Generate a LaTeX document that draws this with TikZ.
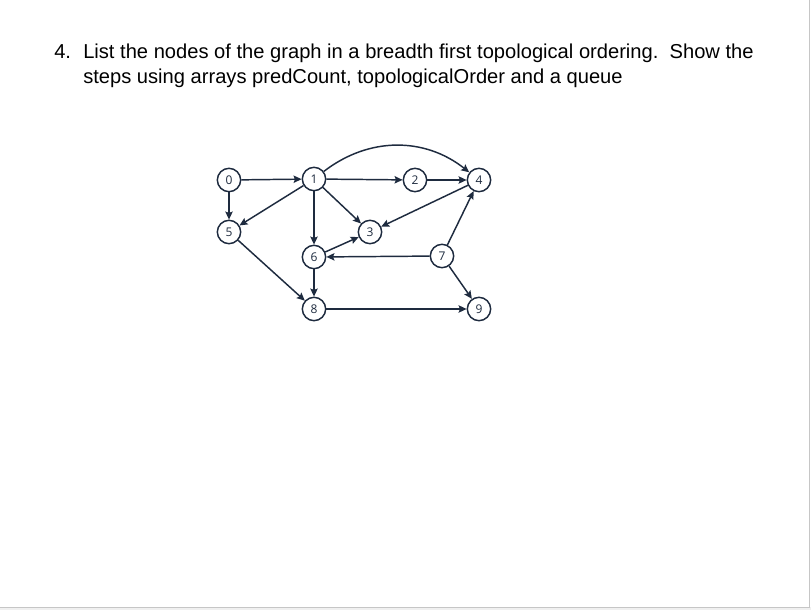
\documentclass[tikz,border=0pt]{standalone}
\usepackage{fontspec}
\setmainfont{Liberation Sans}
\newfontfamily\vertexfont{Open Sans}
\usetikzlibrary{arrows.meta}

\definecolor{graphnavy}{HTML}{1E2B3F}
\tikzset{
  question/.style={anchor=base west,inner sep=0pt,font=\fontsize{15.1}{18.75}\selectfont},
  vertex/.style={draw=graphnavy,circle,fill=white,line width=1.1pt,minimum size=17.5pt,inner sep=0pt,text=graphnavy,font=\vertexfont\fontsize{9}{9}\selectfont},
  edge/.style={draw=graphnavy,line width=1.1pt,-{Stealth[length=6pt,width=5.5pt,inset=1pt]}}
}

\begin{document}
\begin{tikzpicture}[x=0.75pt,y=-0.75pt]
\useasboundingbox (0,0) rectangle (811,610);
\fill[gray!12] (0,607) rectangle (811,610);
\draw[gray!45] (0,607) -- (809.5,607) -- (809.5,0);

% question text
\node[question] (num) at (54,59) {4.};
\node[question] (line1) at (83,59) {List the nodes of the graph in a breadth first topological ordering.\ \ Show the};
\node[question] (line2) at (83,84) {steps using arrays predCount, topologicalOrder and a queue};

% vertices
\node[vertex] (0) at (229,180) {0};
\node[vertex] (1) at (314,179) {1};
\node[vertex] (2) at (415,180) {2};
\node[vertex] (4) at (479,180) {4};
\node[vertex] (5) at (229,232) {5};
\node[vertex] (3) at (370,232) {3};
\node[vertex] (6) at (314,257) {6};
\node[vertex] (7) at (442,256) {7};
\node[vertex] (8) at (314,309) {8};
\node[vertex] (9) at (479,309) {9};

% edges
\draw[edge] (0) -- (1);
\draw[edge] (0) -- (5);
\draw[edge] (1) -- (2);
\draw[edge] (1) to[bend left=38] (4);
\draw[edge] (1) -- (5);
\draw[edge] (1) -- (6);
\draw[edge] (1) -- (3);
\draw[edge] (2) -- (4);
\draw[edge] (4) -- (3);
\draw[edge] (6) -- (3);
\draw[edge] (7) -- (6);
\draw[edge] (7) -- (4);
\draw[edge] (7) -- (9);
\draw[edge] (5) -- (8);
\draw[edge] (6) -- (8);
\draw[edge] (8) -- (9);

\end{tikzpicture}
\end{document}
